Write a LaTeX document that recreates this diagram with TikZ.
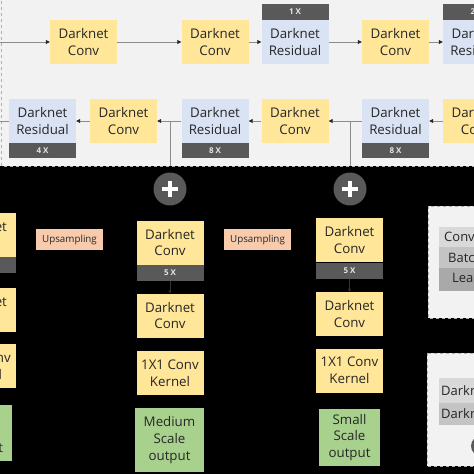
\documentclass[tikz,border=0pt]{standalone}
\usepackage{fontspec}
\setmainfont{Open Sans}
\usetikzlibrary{arrows.meta}
\definecolor{convY}{HTML}{FFE699}
\definecolor{resB}{HTML}{DAE3F3}
\definecolor{barG}{HTML}{595959}
\definecolor{barT}{HTML}{E6E6E6}
\definecolor{upS}{HTML}{F8CBAD}
\definecolor{outG}{HTML}{A9D18E}
\definecolor{topbg}{HTML}{F2F2F2}
\definecolor{lineG}{HTML}{8C8C8C}
\definecolor{txt}{HTML}{262626}
\definecolor{rowA}{HTML}{D9D9D9}
\definecolor{rowB}{HTML}{C4C4C4}
\definecolor{rowC}{HTML}{A9A9A9}
\definecolor{dashC}{HTML}{B0B0B0}
\begin{document}
\begin{tikzpicture}[x=1pt,y=-1pt,
  box/.style={minimum width=67pt,minimum height=44pt,inner sep=0pt,align=center,
    font=\fontsize{13.3}{16.7}\selectfont,text=txt},
  convbox/.style={box,fill=convY},
  resbox/.style={box,fill=resB},
  outbox/.style={box,fill=outG,minimum height=64pt,minimum width=69pt},
  barbox/.style={minimum width=67pt,minimum height=15.5pt,inner sep=0pt,fill=barG,
    text=barT,font=\fontsize{8}{9}\selectfont\bfseries},
  upbox/.style={minimum width=67pt,minimum height=21pt,inner sep=0pt,fill=upS,
    text=txt,font=\fontsize{9.8}{11}\selectfont},
  plusnode/.style={circle,fill=barG,minimum size=33pt,inner sep=0pt,
    path picture={\draw[white,line width=3.8pt]
      ([xshift=-8pt]path picture bounding box.center) -- ([xshift=8pt]path picture bounding box.center)
      ([yshift=-8pt]path picture bounding box.center) -- ([yshift=8pt]path picture bounding box.center);}},
  smallplus/.style={circle,fill=barG,minimum size=20pt,inner sep=0pt},
  arr/.style={draw=lineG,line width=0.8pt,-{Triangle[length=4pt,width=4pt,color=black!85]}},
  plainline/.style={draw=lineG,line width=0.8pt},
  panel/.style={fill=topbg,draw=dashC,dashed,line width=0.6pt},
  legrow/.style={minimum width=90pt,inner sep=0pt,anchor=west},
  legtext/.style={anchor=west,inner sep=0pt,text=txt,font=\fontsize{13}{15}\selectfont},
]
\useasboundingbox (0,0) rectangle (474,474);
% backgrounds
\fill[black] (-5,166) rectangle (480,480);
\fill[topbg] (-5,-5) rectangle (480,166);
\draw[dashC,dashed,line width=0.6pt] (1,-5) -- (1,166) -- (480,166);

% ---- top row ----
\node[convbox] (c1) at (83.5,42) {Darknet\\Conv};
\node[convbox] (c2) at (215,42) {Darknet\\Conv};
\node[resbox] (r1) at (295,42) {Darknet\\Residual};
\node[barbox] (r1h) at (295,12) {1 X};
\node[convbox] (c3) at (395.5,42) {Darknet\\Conv};
\node[resbox] (r2) at (476.5,42) {Darknet\\Residual};
\node[barbox] (r2h) at (476.5,12) {2 X};
\coordinate (lin) at (0,42);
\draw[arr] (lin) -- (c1.west);
\draw[arr] (c1.east) -- (c2.west);
\draw[arr] (c2.east) -- (r1.west);
\draw[arr] (r1.east) -- (c3.west);
\draw[arr] (c3.east) -- (r2.west);

% ---- second row ----
\node[resbox] (r4) at (42.5,121) {Darknet\\Residual};
\node[barbox] (r4f) at (42.5,150.5) {4 X};
\node[convbox] (c4) at (123.5,121) {Darknet\\Conv};
\node[resbox] (r8a) at (215,121) {Darknet\\Residual};
\node[barbox] (r8af) at (215,150.5) {8 X};
\node[convbox] (c5) at (295,121) {Darknet\\Conv};
\node[resbox] (r8b) at (395.5,121) {Darknet\\Residual};
\node[barbox] (r8bf) at (395.5,150.5) {8 X};
\node[convbox] (c6) at (476.5,121) {Darknet\\Conv};
\coordinate (lout) at (0,121);
\draw[arr] (c6.west) -- (r8b.east);
\draw[arr] (r8b.west) -- (c5.east);
\draw[arr] (c5.west) -- (r8a.east);
\draw[arr] (r8a.west) -- (c4.east);
\draw[arr] (c4.west) -- (r4.east);
\draw[plainline] (r4.west) -- (lout);
\coordinate (j1) at (170,121);
\coordinate (j1b) at (170,166);
\coordinate (j2) at (350,121);
\coordinate (j2b) at (350,166);
\draw[plainline] (j1) -- (j1b);
\draw[plainline] (j2) -- (j2b);

% ---- lower section ----
% left (large scale) column, mostly off frame
\node[convbox] (L1) at (-18,235) {Darknet\\Conv};
\node[barbox] (L1b) at (-18,265) {5 X};
\node[convbox] (L2) at (-18,309.5) {Darknet\\Conv};
\node[convbox] (L3) at (-18,366) {1X1 Conv\\Kernel};
\node[outbox,minimum width=60pt,minimum height=56pt] (L4) at (-18,433) {Large\\Scale\\output};

\node[upbox] (u1) at (69.5,239.5) {Upsampling};
\node[upbox] (u2) at (257.5,239.5) {Upsampling};

% medium column
\node[plusnode] (p1) at (170,189) {};
\node[convbox] (m1) at (170,242.5) {Darknet\\Conv};
\node[barbox] (m1b) at (170,273) {5 X};
\node[convbox] (m2) at (170,315.5) {Darknet\\Conv};
\node[convbox] (m3) at (170,373) {1X1 Conv\\Kernel};
\node[outbox] (m4) at (169.5,440) {Medium\\Scale\\output};
\draw[-{Triangle[length=3pt,width=3pt,color=black!80]},draw=black!80,line width=0.6pt] (m1b.south) -- (m2.north);

% small column
\node[plusnode] (p2) at (350,189) {};
\node[convbox] (s1) at (349.5,240) {Darknet\\Conv};
\node[barbox] (s1b) at (349.5,271) {5 X};
\node[convbox] (s2) at (349.5,314) {Darknet\\Conv};
\node[convbox] (s3) at (349.5,370.5) {1X1 Conv\\Kernel};
\node[outbox,minimum width=61pt,minimum height=57pt] (s4) at (349.5,437.5) {Small\\Scale\\output};
\draw[-{Triangle[length=3pt,width=3pt,color=black!80]},draw=black!80,line width=0.6pt] (s1b.south) -- (s2.north);

% ---- legends ----
\draw[panel] (428,206) rectangle (490,318);
\node[legrow,fill=rowA,minimum height=20pt] (lg1) at (439,237) {};
\node[legrow,fill=rowB,minimum height=21pt] (lg2) at (439,257.5) {};
\node[legrow,fill=rowC,minimum height=23pt] (lg3) at (439,279.5) {};
\node[legtext] (lt1) at (444,237) {Convolution};
\node[legtext] (lt2) at (448,257.5) {Batch Norm};
\node[legtext] (lt3) at (452,279.5) {Leaky ReLU};

\draw[panel] (427,353) rectangle (490,466);
\node[legrow,fill=rowA,minimum height=25pt] (lh1) at (439,390.5) {};
\node[legrow,fill=rowB,minimum height=22pt] (lh2) at (439,414) {};
\node[legtext] (ht1) at (441,390.5) {Darknet Conv};
\node[legtext] (ht2) at (441,414) {Darknet Conv};
\node[smallplus] (hp) at (481,446) {};
\end{tikzpicture}
\end{document}
